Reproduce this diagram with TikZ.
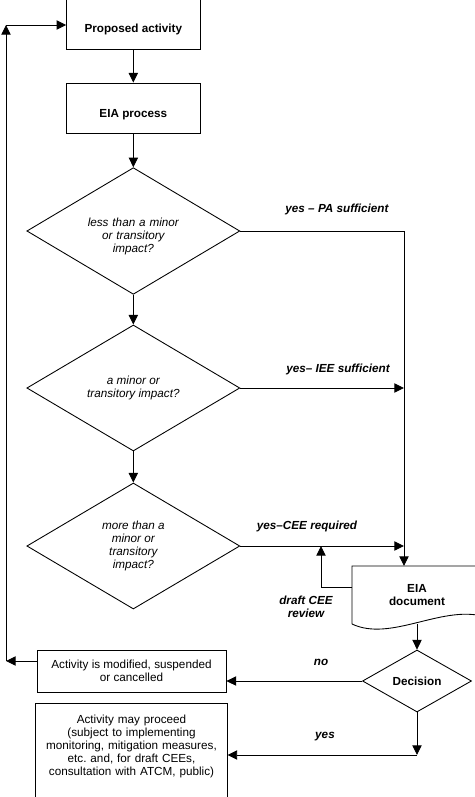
\documentclass[tikz,border=0pt]{standalone}
\usepackage{fontspec}
\setmainfont{Liberation Sans}
\usepackage{tikz}
\usetikzlibrary{shapes.geometric, arrows.meta, positioning}
\tikzset{
    box/.style={rectangle, minimum width=4cm, minimum height=1.5cm, text centered, draw, line width=0.75pt, font=\bfseries, text height=18pt, text depth=2pt},
    decision/.style={diamond, minimum width=6.39cm, minimum height=3.78cm, inner sep=0pt, text centered, draw, line width=0.75pt, font=\itshape, align=center},
    choice/.style={diamond, minimum width=3.27cm, minimum height=1.86cm, inner sep=0pt, text centered, draw, line width=0.75pt, font=\bfseries},
    outcome/.style={rectangle, minimum width=5.67cm, text centered, draw, line width=0.75pt, align=center},
    doc/.style={rectangle, minimum width=3.9cm, minimum height=1.74cm, text centered, font=\bfseries, align=center},
    note/.style={font=\bfseries\itshape, align=center},
    flow/.style={-{Triangle[length=2.9mm, width=2.8mm]}, line width=0.75pt}
}
\begin{document}
\fontsize{10}{11.1}\selectfont
\frenchspacing
\begin{tikzpicture}
    \useasboundingbox (0,0) rectangle (14.22,-23.91);

    % Activity and EIA
    \node[box, minimum height=1.56cm] (proposed) at (4.0,-0.69) {Proposed activity};
    \node[box] (eia) at (4.0,-3.24) {EIA process};

    % Impact questions
    \node[decision, text width=3cm, text depth=15.5pt] (less) at (4.0,-6.93) {less than a minor\\ or transitory\\ impact?};
    \node[decision] (minor) at (4.0,-11.64) {a minor or\\ transitory impact?};
    \node[decision] (more) at (4.0,-16.38) {more than a\\ minor or\\ transitory\\ impact?};

    % EIA document
    \node[doc] (document) at (12.51,-17.85) {EIA\\ document};
    \draw[line width=0.75pt] (10.56,-18.72) -- (10.56,-16.98) -- (14.46,-16.98) -- (14.46,-18.48)
        .. controls (13.2,-18.18) and (11.7,-19.26) .. (10.56,-18.72);
    \node[choice] (decide) at (12.51,-20.43) {Decision};

    % Outcomes
    \node[outcome, minimum height=1.26cm] (modified) at (3.945,-20.13) {Activity is modified, suspended\\ or cancelled};
    \node[outcome, anchor=north, text width=5.5cm, text height=13.4pt, text depth=75pt] (proceed) at (3.945,-21.09) {%
        Activity may proceed\\ %
        (subject to implementing\\ %
        monitoring, mitigation measures,\\ %
        etc.\ and, for draft CEEs,\\ %
        consultation with ATCM, public)%
    };

    \coordinate (docin) at (12.12,-16.98);
    \coordinate (docout) at (10.56,-17.61);
    \coordinate (review) at (9.63,-16.38);
    \coordinate (yescorner) at (12.51,-22.65);
    \coordinate (ret_low) at (0.18,-19.83);
    \coordinate (ret_up) at (0.18,-0.75);

    % Main flow
    \draw[flow] (proposed) -- (eia);
    \draw[flow] (eia) -- (less);
    \draw[flow] (less) -- (minor);
    \draw[flow] (minor) -- (more);

    % Yes branches
    \draw[flow] (less.east) -| (docin);
    \draw[flow] (minor.east) -- (minor.east -| docin);
    \draw[flow] (more.east) -- (more.east -| docin);
    \draw[flow] (docout) -| (review);
    \draw[flow] (document.south) -- (decide.north);

    % Decision
    \draw[flow] (decide.west) -- (decide.west -| modified.east);
    \draw[flow] (decide.south) -- (yescorner);
    \draw[flow] (yescorner) -- (yescorner -| proceed.east);

    % Back to the proposal
    \draw[flow] (modified.west |- ret_low) -- (ret_low);
    \draw[flow] (ret_low) -- (ret_up);
    \draw[flow] (ret_up) -- (ret_up -| proposed.west);

    % Labels
    \node[note] (pa_lbl) at (10.11,-6.28) {yes – PA sufficient};
    \node[note] (iee_lbl) at (10.14,-11.07) {yes– IEE sufficient};
    \node[note] (cee_lbl) at (9.21,-15.78) {yes–CEE required};
    \node[note] (review_lbl) at (9.18,-18.2) {draft CEE\\ review};
    \node[note] (no_lbl) at (9.63,-19.88) {no};
    \node[note] (yes_lbl) at (9.75,-22.1) {yes};
\end{tikzpicture}
\end{document}
